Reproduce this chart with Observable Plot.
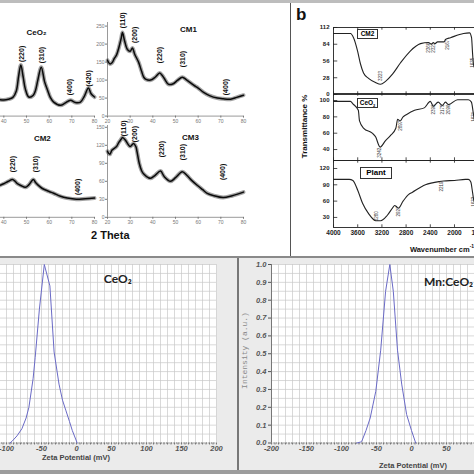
<!DOCTYPE html>
<html><head><meta charset="utf-8">
<script src="https://cdn.jsdelivr.net/npm/d3@7"></script>
<script src="https://cdn.jsdelivr.net/npm/@observablehq/plot@0.6"></script>
<style>
html,body{margin:0;padding:0;background:#fff;}
#fig{position:relative;width:474px;height:474px;overflow:hidden;background:#fff;font-family:Arial,"Liberation Sans",sans-serif;}
#fig svg{position:absolute;}
.abs{position:absolute;white-space:nowrap;}
</style></head><body><div id="fig"></div>
<script>
// ---------- XRD (panel a) ----------
const xrdTicks = [20,30,40,50,60,70,80];
const xrdTicksCropped = [40,50,60,70,80];
const cm1YTicks = [0,50,100,150,200,250];
const cm3YTicks = [0,30,60,90,120,150];

const ceo2XrdTheta = [36,38,40,42,44,45.5,46.5,47.5,48.5,49.5,51,53,54,55,56.5,58,59.3,60.5,62,65,67,69.4,71.5,73.8,75.5,77.3,78.5,80];
const ceo2XrdCounts = [48,46,45,47,52,70,110,142,110,75,53,58,72,100,136,95,72,52,39,30,36,44,38,39,55,78,62,53];
const cm1Theta = [20,21,22,23,24,25,26,26.6,27.5,28.8,30,31,32,33.7,35,36,37,39,41,43,44,45,47,49,51,53,55,58,60,62.4,65,68.5,71,74.3,77,80];
const cm1Counts = [155,145,148,160,170,190,215,232,210,185,180,189,172,150,125,108,102,100,108,120,114,105,88,90,100,108,100,86,78,66,57,50,48,47,52,58];
const cm2Theta = [36,38,40,42,43.8,45,46,47.5,49.5,51,53,54,55,57,60,62,65,68,72,76,80];
const cm2Counts = [52,53,56,60,63,60,56,53,50,54,63,58,54,48,43,40,35,32,30,31,32];
const cm3Theta = [20,21,22,24,25,26,26.6,28,29,30,31.5,32.5,33,34,35,36,38,39,41,43.4,45,47.8,50,53,55,57,59.7,62,64,67,71,75,80];
const cm3Counts = [110,105,112,118,125,130,133,128,122,118,123,118,110,90,78,72,66,65,70,77,68,60,66,76,70,62,53,46,40,36,33,36,42];

const ceo2XrdHkl = ["(220)","(310)","(400)","(420)"];
const ceo2XrdHklTheta = [47.7,56.6,69,77.3];
const ceo2XrdHklBase = [150,147,58,82];
const cm1Hkl = ["(110)","(200)","(220)","(310)","(400)"];
const cm1HklTheta = [26.6,31.9,43,53,72];
const cm1HklBase = [244,203,147,136,58];
const cm2Hkl = ["(220)","(310)","(400)"];
const cm2HklTheta = [43.8,54.1,72.4];
const cm2HklBase = [75,75,37];
const cm3Hkl = ["(110)","(200)","(220)","(310)","(400)"];
const cm3HklTheta = [27,32,44,53.4,71];
const cm3HklBase = [135,125,100,95,62];

const xrdNames = ["CeO₂","CM1","CM2","CM3"];
const xrdNameTheta = [54.4,55.7,57,56.6];
const xrdNameCounts = [233,242,132,133];

// ---------- FTIR (panel b) ----------
const ftirXTicks = [4000,3600,3200,2800,2400,2000,1600,1200,800,400];
const ftirXLabels = [4000,3600,3200,2800,2400,2000,1600];
const cm2FtYTicks = [0,28,56,84,112];
const ceo2FtYTicks = [40,60,80,100];
const plantFtYTicks = [30,60,90,120];

const cm2Wn = [4000,3719,3669,3603,3554,3504,3421,3306,3223,3140,3025,2892,2727,2562,2430,2380,2350,2323,2280,2170,2150,2066,1851,1752,1718,1702,1686,1636];
const cm2T  = [102,102,95,73,51,36,27,20,17,22,34,53,73,85,87,84,87,85,88,88,92,95,102,103,95,70,50,40];
const ceo2Wn = [4000,3720,3680,3590,3570,3500,3360,3300,3250,3230,3140,3060,2970,2940,2900,2850,2790,2660,2500,2400,2350,2270,2200,2150,2100,1950,1770,1720,1690,1670,1640];
const ceo2T  = [99,99,96,88,75,66,60,55,45,43,51,57,66,77,75,80,83,88,91,99,93,98,94,98,95,101,101,98,85,75,60];
const plantWn = [4000,3740,3680,3600,3520,3420,3300,3220,3110,3020,2990,2960,2930,2850,2760,2700,2480,2250,2180,2000,1820,1770,1730,1700,1680,1650];
const plantT  = [100,100,98,80,56,37,24,24,34,48,52,50,47,60,72,76,90,96,97,98,100,100,95,75,61,55];

const cm2PeakText = ["3223","2366","2323","2167","1635"];
const cm2PeakWn = [3223,2430,2347,2115,1694];
const cm2PeakT = [31,78,78,83,53];
const ceo2PeakText = ["3242","2897","2396","2175","2096","1631"];
const ceo2PeakWn = [3240,2892,2347,2198,2099,1686];
const ceo2PeakT = [36,69,89,89,89,80];
const plantPeakText = ["3280","2927","2219","1632"];
const plantPeakWn = [3289,2926,2215,1686];
const plantPeakT = [32,41,87,59];

// ---------- Zeta potential ----------
const zetaTicksLeft = [-100,-50,0,50,100,150,200];
const zetaTicksRight = [-200,-150,-100,-50,0,50];
const intensityTicks = [0,0.1,0.2,0.3,0.4,0.5,0.6,0.7,0.8,0.9,1.0];
const zetaCeo2Mv = [-95,-92,-85,-78,-72,-68,-62,-59,-53,-46,-38,-32,-25,-20,-15,-10,-6,1];
const zetaCeo2I  = [0,0.01,0.04,0.08,0.14,0.2,0.36,0.48,0.75,1.0,0.88,0.51,0.33,0.24,0.18,0.12,0.07,0];
const zetaMnMv = [-78,-73,-71,-65,-59,-51,-44,-37,-31,-26,-20,-14,-7,0,6];
const zetaMnI  = [0,0.005,0.01,0.07,0.14,0.29,0.52,0.85,1.0,0.85,0.52,0.33,0.16,0.07,0];
const zetaNames = ["CeO₂","Mn:CeO₂"];
const zetaNameMv = [59,53];
const zetaNameI = [0.92,0.9];

// ---------- layout helpers ----------
const fig = document.getElementById("fig");
function place(opts, plotLeft, plotTop, plotW, plotH, m) {
  const svg = Plot.plot({
    ...opts,
    width: m.l + plotW + m.r, height: m.t + plotH + m.b,
    marginLeft: m.l, marginRight: m.r, marginTop: m.t, marginBottom: m.b,
    style: {background: "transparent", maxWidth: "none", overflow: "visible", fontFamily: "Arial, 'Liberation Sans', sans-serif"}
  });
  svg.style.left = (plotLeft - m.l) + "px";
  svg.style.top = (plotTop - m.t) + "px";
  fig.append(svg);
}
function box(css, html) {
  const d = document.createElement("div");
  d.className = "abs"; d.style.cssText = css; d.innerHTML = html; fig.append(d);
  return d;
}
const zip = (a, b, k1, k2) => a.map((v, i) => ({[k1]: v, [k2]: b[i]}));

// ---------- backgrounds ----------
box("left:0;top:258px;width:474px;height:216px;background:#ebebeb;", "");

// ---------- XRD panels ----------
function xrd(theta, counts, hkl, hklT, hklB, nameIdx, plotLeft, plotTop, plotH, ymax, xticks, yticks) {
  const data = zip(theta, counts, "t", "c");
  const peaks = hkl.map((s, i) => ({s, t: hklT[i], c: hklB[i]}));
  const nm = [{s: xrdNames[nameIdx], t: xrdNameTheta[nameIdx], c: xrdNameCounts[nameIdx]}];
  const marks = [
    Plot.ruleY([0], {stroke: "#9a9a9a"}),
    Plot.ruleX([20], {stroke: "#9a9a9a"}),
    Plot.axisX({ticks: xticks, tickSize: 2, tickPadding: 1, fontSize: 5, color: "#777", label: null}),
    Plot.line(data, {x: "t", y: "c", stroke: "#333", strokeWidth: 4, strokeOpacity: 0.45, curve: "catmull-rom"}),
    Plot.line(data, {x: "t", y: "c", stroke: "#0a0a0a", strokeWidth: 1.5, curve: "catmull-rom"}),
    Plot.text(peaks, {x: "t", y: "c", text: "s", rotate: -90, textAnchor: "start", fontSize: 7, fontWeight: "bold", fill: "#111"}),
    Plot.text(nm, {x: "t", y: "c", text: "s", fontSize: 8, fontWeight: "bold", fill: "#111"})
  ];
  if (yticks) marks.push(Plot.axisY({ticks: yticks, tickSize: 2, tickPadding: 1, fontSize: 5, color: "#777", label: null}));
  place({x: {domain: [20, 80]}, y: {domain: [0, ymax], axis: yticks ? undefined : null}, marks},
    plotLeft, plotTop, 136, plotH, {l: 16, r: 4, t: 4, b: 10});
}
xrd(ceo2XrdTheta, ceo2XrdCounts, ceo2XrdHkl, ceo2XrdHklTheta, ceo2XrdHklBase, 0, -42, 22.4, 93.6, 260, xrdTicksCropped, null);
xrd(cm1Theta, cm1Counts, cm1Hkl, cm1HklTheta, cm1HklBase, 1, 107, 22.4, 93.6, 260, xrdTicks, cm1YTicks);
xrd(cm2Theta, cm2Counts, cm2Hkl, cm2HklTheta, cm2HklBase, 2, -42, 125.2, 91.8, 153, xrdTicksCropped, null);
xrd(cm3Theta, cm3Counts, cm3Hkl, cm3HklTheta, cm3HklBase, 3, 107, 125.2, 91.8, 153, xrdTicks, cm3YTicks);
box("left:91px;top:229px;font-size:11px;font-weight:bold;color:#111;", "2 Theta");

// ---------- FTIR panels ----------
function ftir(wn, tr, ptext, pwn, ptr, ydomain, yticks, plotTop, bottomAxis) {
  const data = zip(wn, tr, "w", "v");
  const peaks = ptext.map((s, i) => ({s, w: pwn[i], v: ptr[i]}));
  const span = ydomain[1] - ydomain[0];
  const marks = [
    Plot.frame({stroke: "#222", strokeWidth: 0.9}),
    Plot.axisY({ticks: yticks, tickSize: 0, tickPadding: 4, fontSize: 6, fontWeight: "bold", fill: "#222", label: null}),
    Plot.ruleY(yticks, {x1: 4000, x2: 3930, stroke: "#222", strokeWidth: 0.8}),
    Plot.ruleX(ftirXTicks, {y1: ydomain[1], y2: ydomain[1] - span * 0.04, stroke: "#222", strokeWidth: 0.8}),
    Plot.ruleX(ftirXTicks, {y1: ydomain[0], y2: ydomain[0] + span * 0.04, stroke: "#222", strokeWidth: 0.8}),
    Plot.line(data, {x: "w", y: "v", stroke: "#222", strokeWidth: 1.1, curve: "monotone-x"}),
    Plot.text(peaks, {x: "w", y: "v", text: "s", rotate: -90, fontSize: 4.5, fill: "#333"})
  ];
  if (bottomAxis) marks.push(Plot.axisX({ticks: ftirXLabels, tickSize: 0, tickPadding: 3, fontSize: 6.5, fontWeight: "bold", fill: "#222", label: null, tickFormat: d => String(d)}));
  place({x: {domain: [4000, 400], axis: bottomAxis ? undefined : null}, y: {domain: ydomain}, marks}, 333, plotTop, 217.8, 67, {l: 20, r: 4, t: 2, b: 12});
}
ftir(cm2Wn, cm2T, cm2PeakText, cm2PeakWn, cm2PeakT, [0, 112], cm2FtYTicks, 27, false);
ftir(ceo2Wn, ceo2T, ceo2PeakText, ceo2PeakWn, ceo2PeakT, [26.6, 108.6], ceo2FtYTicks, 93, false);
ftir(plantWn, plantT, plantPeakText, plantPeakWn, plantPeakT, [11.5, 134.7], plantFtYTicks, 160, true);

box("left:357px;top:29px;width:19px;height:8px;border:1px solid #333;background:#fff;font-size:6.5px;font-weight:bold;line-height:8px;text-align:center;", "CM2");
box("left:357px;top:98px;width:19px;height:8px;border:1px solid #333;background:#fff;font-size:6.5px;font-weight:bold;line-height:8px;text-align:center;", "CeO<sub style='font-size:4px'>2</sub>");
box("left:360px;top:167px;width:30px;height:10px;border:1px solid #333;background:#fff;font-size:8px;font-weight:bold;line-height:10px;text-align:center;", "Plant");
box("left:372px;top:243px;width:140px;text-align:center;font-size:7.5px;font-weight:bold;color:#111;", "Wavenumber cm<sup style='font-size:5px'>-1</sup>");
box("left:264px;top:122px;width:80px;text-align:center;font-size:8px;font-weight:bold;color:#111;transform:rotate(-90deg);", "Transmittance %");
box("left:296px;top:5px;font-size:17px;font-weight:bold;color:#111;", "b");

// ---------- Zeta panels ----------
function zeta(mv, inten, nameIdx, plotLeft, xticks, showY) {
  const data = zip(mv, inten, "m", "i");
  const nm = [{s: zetaNames[nameIdx], m: zetaNameMv[nameIdx], i: zetaNameI[nameIdx]}];
  const marks = [
    Plot.frame({fill: "#fff", stroke: null}),
    Plot.gridX({ticks: d3.range(-200, 201, 10), stroke: "#c8c8c8", strokeOpacity: 1, strokeWidth: 0.7}),
    Plot.gridY({ticks: d3.range(0, 1.0001, 0.05), stroke: "#c8c8c8", strokeOpacity: 1, strokeWidth: 0.7}),
    Plot.ruleY([0], {stroke: "#777", strokeDasharray: "1,1.5"}),
    Plot.ruleX([-200], {stroke: "#777"}),
    Plot.axisX({ticks: d3.range(-200, 201, 5), tickSize: 2, tickFormat: () => "", color: "#777", label: null}),
    Plot.axisX({ticks: xticks, tickSize: 0, tickPadding: 3, fontSize: 7.5, fontStyle: "italic", fontWeight: "bold", fill: "#555", label: null, tickFormat: d => String(d)}),
    Plot.line(data, {x: "m", y: "i", stroke: "#6a6ac6", strokeWidth: 1}),
    Plot.text(nm, {x: "m", y: "i", text: "s", fontSize: 12, fontWeight: "bold", fill: "#222", fontFamily: "Lato, 'Open Sans', sans-serif"})
  ];
  if (showY) marks.push(Plot.axisY({ticks: intensityTicks, tickSize: 3, tickPadding: 2, fontSize: 7.5, fontStyle: "italic", fontWeight: "bold", color: "#555", label: null, tickFormat: d3.format(".1f")}));
  place({x: {domain: [-200, 200]}, y: {domain: [0, 1], axis: showY ? undefined : null}, marks},
    plotLeft, 263.5, 280, 178.5, {l: 34, r: 10, t: 4, b: 30});
}
zeta(zetaCeo2Mv, zetaCeo2I, 0, -64, zetaTicksLeft, false);
zeta(zetaMnMv, zetaMnI, 1, 271, zetaTicksRight, true);

box("left:26px;top:453px;width:100px;text-align:center;font-size:7.5px;font-weight:bold;color:#444;", "Zeta Potential (mV)");
box("left:363px;top:461px;width:100px;text-align:center;font-size:7.5px;font-weight:bold;color:#444;", "Zeta Potential (mV)");
box("left:204px;top:346px;width:80px;text-align:center;font-size:8px;color:#888;font-family:'Liberation Mono','DejaVu Sans Mono',monospace;transform:rotate(-90deg);", "Intensity (a.u.)");

// ---------- dividers ----------
box("left:0;top:0;width:474px;height:3px;background:#bdbdbd;", "");
box("left:290px;top:3px;width:1px;height:254px;background:#555;", "");
box("left:0;top:256px;width:474px;height:2px;background:#8a8a8a;", "");
box("left:237px;top:258px;width:2px;height:216px;background:#777;", "");
box("left:0;top:470px;width:474px;height:4px;background:#9c9c9c;", "");
</script></body></html>
